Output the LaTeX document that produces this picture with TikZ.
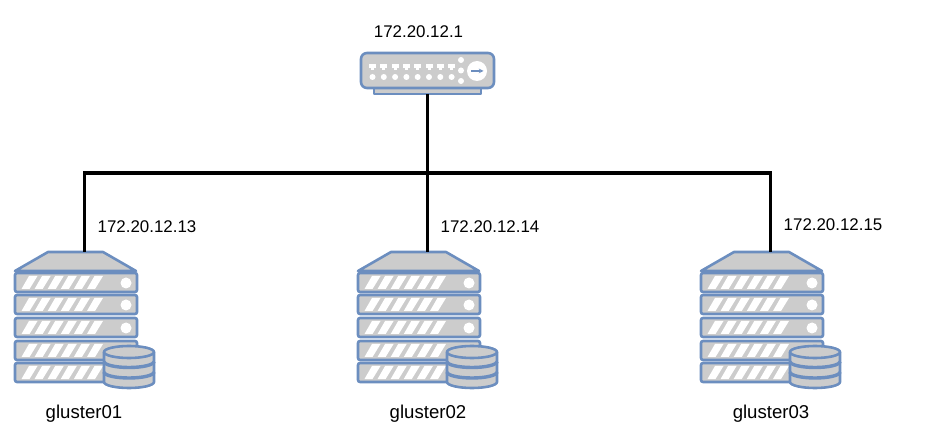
\documentclass[tikz,border=0pt]{standalone}
\usepackage{fontspec}
\setmainfont{Liberation Sans}
\definecolor{rackblue}{HTML}{6C8EBF}
\definecolor{rackgray}{HTML}{CCCCCC}
\tikzset{
    rackpart/.style={draw=rackblue, fill=rackgray, line width=2.6pt, line join=round},
    hole/.style={fill=white, draw=none},
    label/.style={font=\fontsize{16.9}{20}\selectfont, inner sep=0pt},
    namelabel/.style={font=\fontsize{18.6}{20}\selectfont, inner sep=0pt},
    wire/.style={draw=black, line width=3.2pt},
    serverpic/.pic={
        \path[rackpart] (33,0) -- (88,0) -- (121,19) -- (0,19) -- cycle;
        \foreach \y in {21,43,66,89,111} {
            \path[rackpart, rounded corners=2pt] (0,\y) rectangle (122,\y+19);
            \foreach \x in {0,1,2,3,4,5} {
                \fill[hole] (6.5+\x*13.1,\y+16) -- (14.5+\x*13.1,\y+16) -- (22.5+\x*13.1,\y+3) -- (14+\x*13.1,\y+3) -- cycle;
            }
        }
        \foreach \y in {31,53,76} {
            \fill[hole] (111,\y) circle (5.5);
        }
        % disks in front
        \path[rackpart] (89,100) -- (89,130) arc[start angle=180, end angle=360, x radius=25pt, y radius=6pt] -- (139,100) -- cycle;
        \path[rackpart] (89,100) arc[start angle=180, end angle=-180, x radius=25pt, y radius=6pt];
        \draw[draw=rackblue, line width=3.4pt] (89,109.5) arc[start angle=180, end angle=360, x radius=25pt, y radius=6pt];
        \draw[draw=rackblue, line width=3.4pt] (89,120) arc[start angle=180, end angle=360, x radius=25pt, y radius=6pt];
        \coordinate (top) at (69.5,0);
    },
    switchpic/.pic={
        \path[rackpart] (13,35) rectangle (120,41);
        \path[rackpart, rounded corners=6pt] (0,0) rectangle (133,35);
        \foreach \x in {0,...,7} {
            \fill[hole] (8+\x*11.3,11) rectangle (15+\x*11.3,15);
            \fill[hole] (10+\x*11.3,15) rectangle (13+\x*11.3,17);
            \fill[hole] (11.5+\x*11.3,24) circle (3);
        }
        \foreach \y in {7,17.5,28} {
            \fill[hole] (100,\y) circle (3);
        }
        \fill[hole] (116,18) circle (10);
        \draw[rackblue, line width=1.1pt, -stealth] (110,18) -- (122.5,18);
        \coordinate (bottom) at (66.5,41);
    }
}
\begin{document}
\begin{tikzpicture}[x=1pt, y=-1pt]
    \useasboundingbox (0,0) rectangle (940,438);

    \pic (sw) at (361,53) {switchpic};
    \pic (g1) at (15,252) {serverpic};
    \pic (g2) at (358,252) {serverpic};
    \pic (g3) at (701,252) {serverpic};

    \coordinate (bus) at (427.5,173);
    \draw[wire] (swbottom) -- (bus);
    \draw[wire] (g1top) |- (bus);
    \draw[wire] (bus) -- (g2top);
    \draw[wire] (g3top) |- (bus);

    \node[label, anchor=base] (swlabel) at (418.5,38) {172.20.12.1};
    \node[label, anchor=base west] (ip1) at (97.5,233) {172.20.12.13};
    \node[label, anchor=base west] (ip2) at (440.5,233) {172.20.12.14};
    \node[label, anchor=base west] (ip3) at (783.5,231) {172.20.12.15};
    \node[namelabel, anchor=base] (name1) at (84,418) {gluster01};
    \node[namelabel, anchor=base] (name2) at (428,418) {gluster02};
    \node[namelabel, anchor=base] (name3) at (771,418) {gluster03};
\end{tikzpicture}
\end{document}
